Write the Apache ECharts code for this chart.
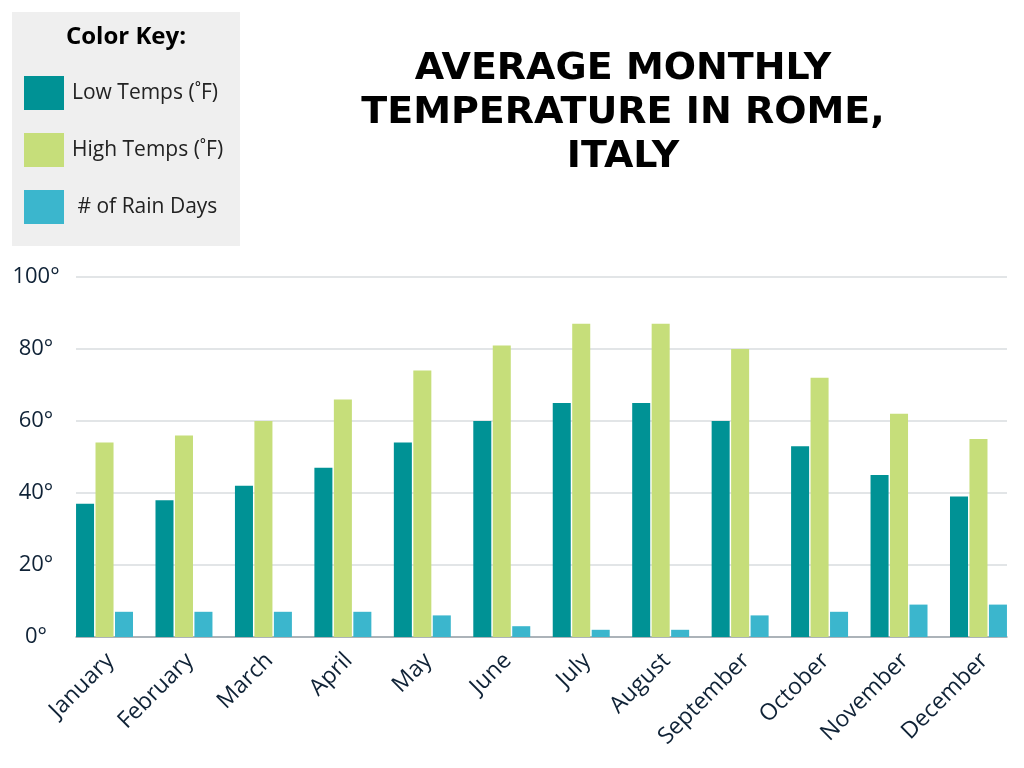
<!DOCTYPE html>
<html>
<head>
<meta charset="utf-8">
<script src="https://cdn.jsdelivr.net/npm/echarts@6/dist/echarts.min.js"></script>
<style>
html,body{margin:0;padding:0;background:#fff;}
#chart{width:1024px;height:768px;}
</style>
</head>
<body>
<div id="chart"></div>
<script>
const months = ["January","February","March","April","May","June","July","August","September","October","November","December"];
const lowTemps = [37,38,42,47,54,60,65,65,60,53,45,39];
const highTemps = [54,56,60,66,74,81,87,87,80,72,62,55];
const rainDays = [7,7,7,7,6,3,2,2,6,7,9,9];
const yTicks = [0,20,40,60,80,100];
const seriesNames = ['Low Temps (˚F)', 'High Temps (˚F)', ' # of Rain Days'];

const C_LOW = '#009295';
const C_HIGH = '#c6de7a';
const C_RAIN = '#3bb6cd';
const TXT = '#0f2236';

const chart = echarts.init(document.getElementById('chart'));
chart.setOption({
  animation: false,
  backgroundColor: '#ffffff',
  title: {
    text: 'AVERAGE MONTHLY\nTEMPERATURE IN ROME,\nITALY',
    left: 618, top: 42, textAlign: 'center',
    textStyle: { fontFamily: 'DejaVu Sans', fontWeight: 'bold', fontSize: 38, lineHeight: 44, color: '#000' }
  },
  graphic: [
    { type: 'rect', left: 12, top: 12, shape: { width: 228, height: 234 }, style: { fill: '#efefef' }, z: -10 },
    { type: 'text', x: 126, y: 25, style: { text: 'Color Key:', textAlign: 'center', fontFamily: 'Open Sans', fontWeight: 'bold', fontSize: 24, fill: '#000' } }
  ],
  legend: {
    orient: 'vertical', left: 24, top: 76, padding: 0,
    itemWidth: 40, itemHeight: 34, itemGap: 23,
    icon: 'rect',
    textStyle: { fontFamily: 'Open Sans', fontSize: 21, color: '#222', padding: [0,0,0,3] },
    data: seriesNames
  },
  grid: [
    { left: 64.8, right: 5.8, top: 277, bottom: 131 },
    { left: 76, right: 17, top: 277, bottom: 131 },
    { left: 70.8, right: -0.2, top: 277, bottom: 131 }
  ],
  xAxis: [
    { type: 'category', gridIndex: 0, data: months,
      axisLine: { show: false }, axisTick: { show: false }, axisLabel: { show: false } },
    { type: 'value', gridIndex: 1, min: 0, max: 1, show: true,
      axisLine: { show: true, lineStyle: { color: '#9aa3ab', width: 1.5 } },
      axisTick: { show: false }, axisLabel: { show: false }, splitLine: { show: false } },
    { type: 'category', gridIndex: 2, data: months,
      axisLine: { show: false }, axisTick: { show: false },
      axisLabel: { interval: 0, rotate: 45, margin: 20, fontFamily: 'Open Sans', fontWeight: 500, fontSize: 23, color: TXT } }
  ],
  yAxis: [
    { type: 'value', gridIndex: 0, min: 0, max: 100, show: false },
    { type: 'value', gridIndex: 1, min: 0, max: 100, interval: 20,
      axisLine: { show: false }, axisTick: { show: false },
      splitLine: { lineStyle: { color: '#d8dcdf', width: 1.5 } },
      axisLabel: { margin: 40, align: 'center', fontFamily: 'Open Sans', fontWeight: 500, fontSize: 22, color: TXT,
        formatter: v => yTicks.includes(v) ? v + '°' : '' } },
    { type: 'value', gridIndex: 2, min: 0, max: 100, show: false }
  ],
  series: [
    { name: seriesNames[0], type: 'bar', xAxisIndex: 0, yAxisIndex: 0, data: lowTemps,
      itemStyle: { color: C_LOW }, barGap: '8%', barCategoryGap: '28.3%' },
    { name: seriesNames[1], type: 'bar', xAxisIndex: 0, yAxisIndex: 0, data: highTemps,
      itemStyle: { color: C_HIGH } },
    { name: seriesNames[2], type: 'bar', xAxisIndex: 0, yAxisIndex: 0, data: rainDays,
      itemStyle: { color: C_RAIN } }
  ]
});
</script>
</body>
</html>
